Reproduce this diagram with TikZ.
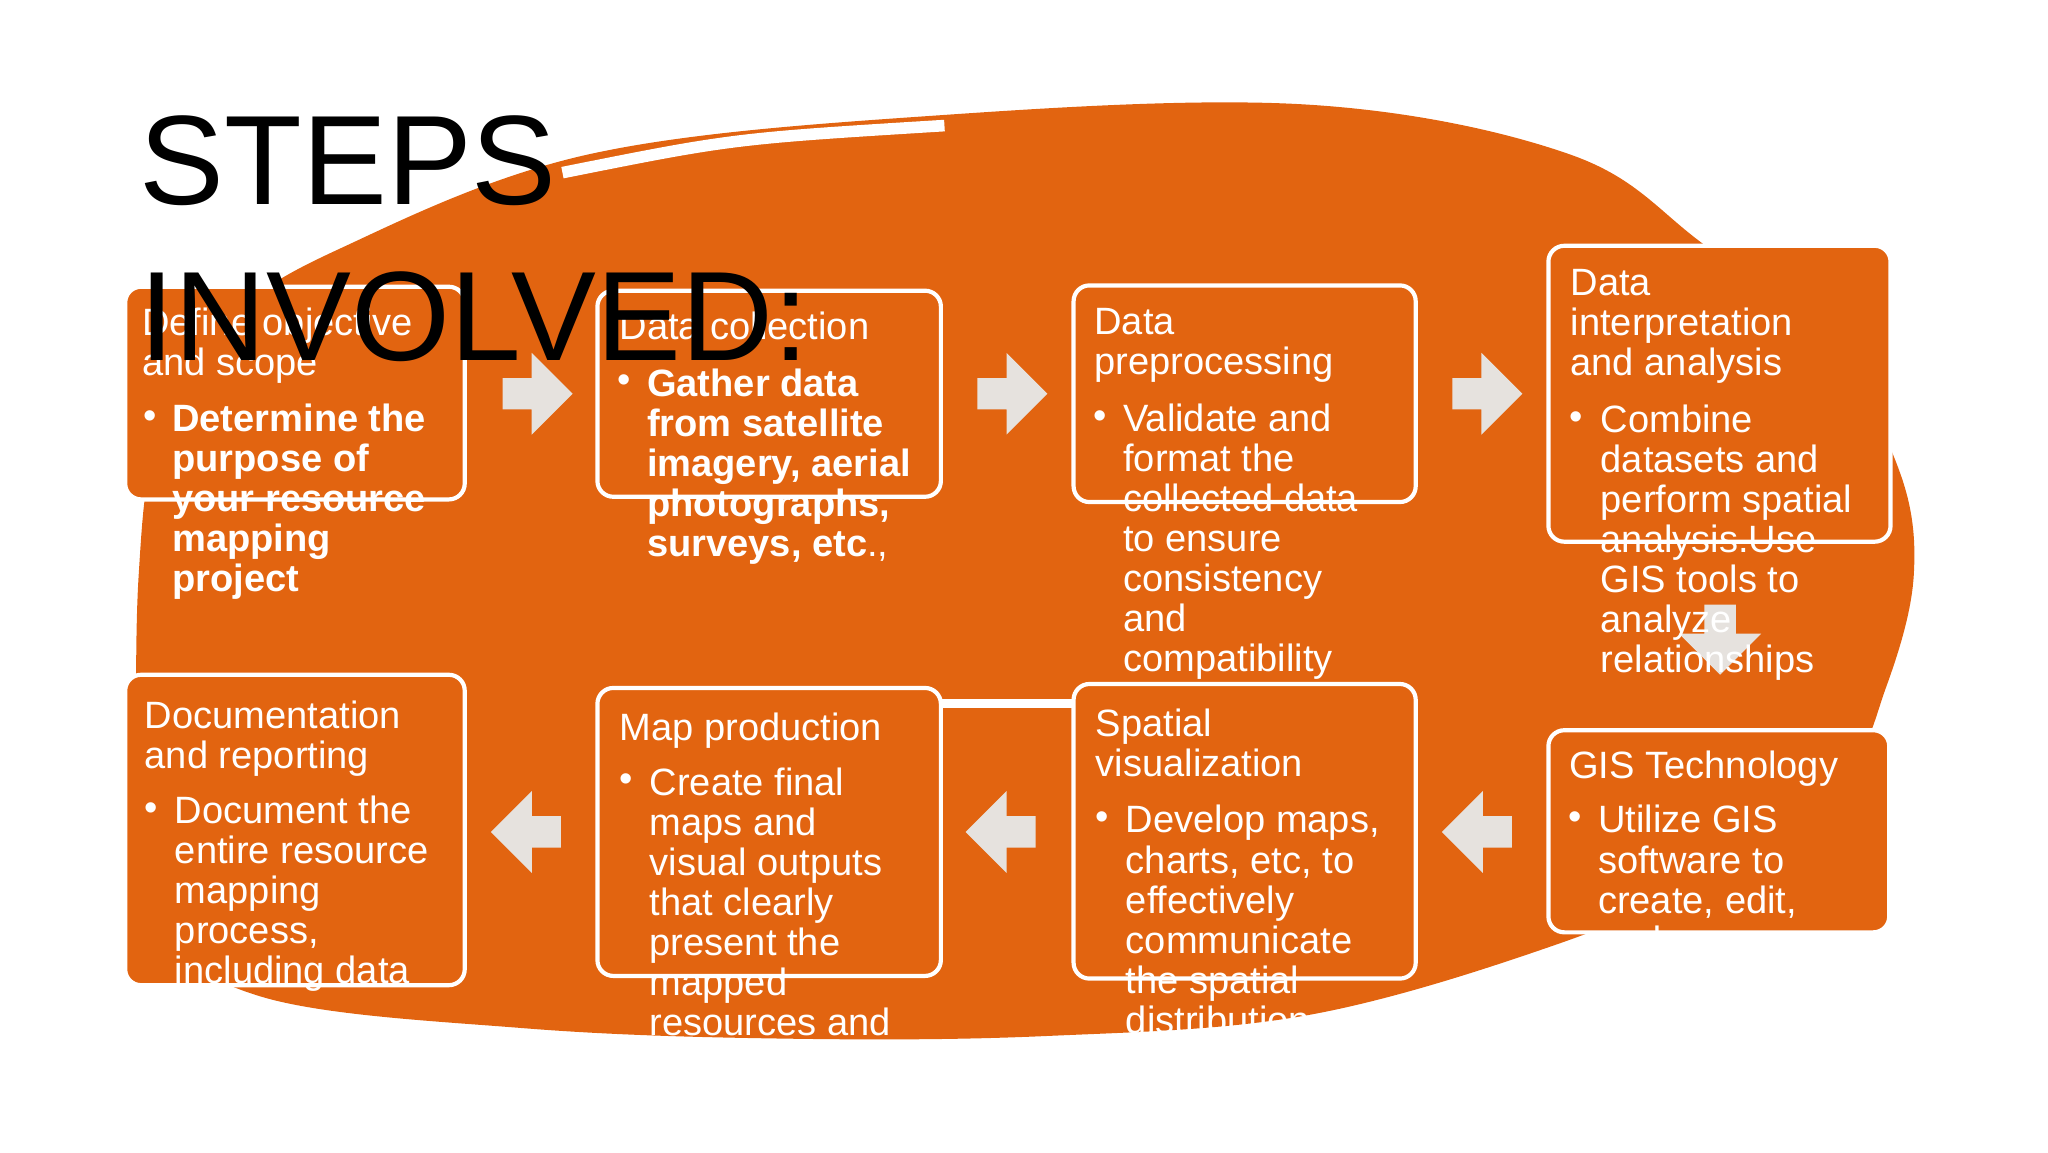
\documentclass[tikz,border=0pt]{standalone}
\usepackage{fontspec}
\setmainfont{Liberation Sans}
\usetikzlibrary{shapes.arrows}
\definecolor{org}{RGB}{226,100,16}
\definecolor{arr}{RGB}{230,226,222}
\begin{document}
\begin{tikzpicture}[x=0.0099cm,y=-0.0099cm,
  box/.style={draw=white,line width=0.9pt,fill=org,rounded corners=0.12cm,inner sep=0pt},
  txt/.style={anchor=north west,text=white,align=left,inner sep=0pt,font=\fontsize{8.2}{8.62}\selectfont},
  arw/.style={single arrow,fill=arr,draw=none,minimum height=0.53cm,minimum width=0.62cm,inner sep=0.08cm,single arrow head extend=0.14cm}]
\useasboundingbox (0,0) rectangle (1565.66,880.8);
% blob
\fill[org] plot[smooth cycle,tension=0.6] coordinates {(260,190) (450,118) (720,88) (1000,80) (1200,118) (1300,185) (1400,268) (1452,360) (1463,440) (1442,525) (1405,600) (1300,672) (1190,722) (1000,776) (800,792) (600,794) (400,786) (200,762) (112,700) (105,600) (106,440) (122,330) (175,245)};
\draw[white,line width=2.5pt] (430,132) .. controls (560,106) .. (722,96);
\draw[white,line width=2pt] (560,538) -- (830,538);
% boxes
\node[box,minimum width=2.57cm,minimum height=1.61cm] (b1) at (225.5,300.5) {};
\node[box,minimum width=2.60cm,minimum height=1.56cm] (b2) at (588,301) {};
\node[box,minimum width=2.59cm,minimum height=1.64cm] (b3) at (951.5,301) {};
\node[box,minimum width=2.59cm,minimum height=2.24cm] (b4) at (1314.5,301) {};
\node[box,minimum width=2.58cm,minimum height=1.53cm] (b5) at (1314,635.5) {};
\node[box,minimum width=2.59cm,minimum height=2.23cm] (b6) at (951.5,635.5) {};
\node[box,minimum width=2.60cm,minimum height=2.18cm] (b7) at (588,636) {};
\node[box,minimum width=2.57cm,minimum height=2.35cm] (b8) at (225.5,634.5) {};
% arrows
\node[arw] (a1) at (405,301) {};
\node[arw] (a2) at (768,301) {};
\node[arw] (a3) at (1131,301) {};
\node[arw,shape border rotate=270] (a4) at (1315,483) {};
\node[arw,shape border rotate=180] (a5) at (1135,636) {};
\node[arw,shape border rotate=180] (a6) at (771,636) {};
\node[arw,shape border rotate=180] (a7) at (408,636) {};
% texts
\node[txt] (t1) at (108,235) {Define objective\\and scope};
\node[txt] (u1) at (109,313) {•};
\node[txt] (v1) at (131,308) {\bfseries Determine the\\\bfseries purpose of\\\bfseries your resource\\\bfseries mapping\\\bfseries project};
\node[txt] (t2) at (473,238) {Data collection};
\node[txt] (u2) at (471,286) {•};
\node[txt] (v2) at (494,281) {\bfseries Gather data\\\bfseries from satellite\\\bfseries imagery, aerial\\\bfseries photographs,\\\bfseries surveys, etc\textmd{.,}};
\node[txt] (t3) at (836,235) {Data\\preprocessing};
\node[txt] (u3) at (835,313) {•};
\node[txt] (v3) at (858,308) {Validate and\\format the\\collected data\\to ensure\\consistency\\and\\compatibility};
\node[txt] (t4) at (1200,205) {Data\\interpretation\\and analysis};
\node[txt] (u4) at (1199,314) {•};
\node[txt] (v4) at (1223,309) {Combine\\datasets and\\perform spatial\\analysis.Use\\GIS tools to\\analyze\\relationships};
\node[txt] (t5) at (1199,573) {GIS Technology};
\node[txt] (u5) at (1198,620) {•};
\node[txt] (v5) at (1221,615) {Utilize GIS\\software to\\create, edit,\\and};
\node[txt] (t6) at (837,541) {Spatial\\visualization};
\node[txt] (u6) at (837,620) {•};
\node[txt] (v6) at (860,615) {Develop maps,\\charts, etc, to\\effectively\\communicate\\the spatial\\distribution};
\node[txt] (t7) at (473,544) {Map production};
\node[txt] (u7) at (473,591) {•};
\node[txt] (v7) at (496,586) {Create final\\maps and\\visual outputs\\that clearly\\present the\\mapped\\resources and};
\node[txt] (t8) at (110,535) {Documentation\\and reporting};
\node[txt] (u8) at (110,613) {•};
\node[txt] (v8) at (133,608) {Document the\\entire resource\\mapping\\process,\\including data};
% title
\node[anchor=north west,inner sep=0pt,align=left,font=\fontsize{27.4}{33.5}\selectfont] (title) at (106,88) {STEPS\\INVOLVED:};
\end{tikzpicture}
\end{document}
